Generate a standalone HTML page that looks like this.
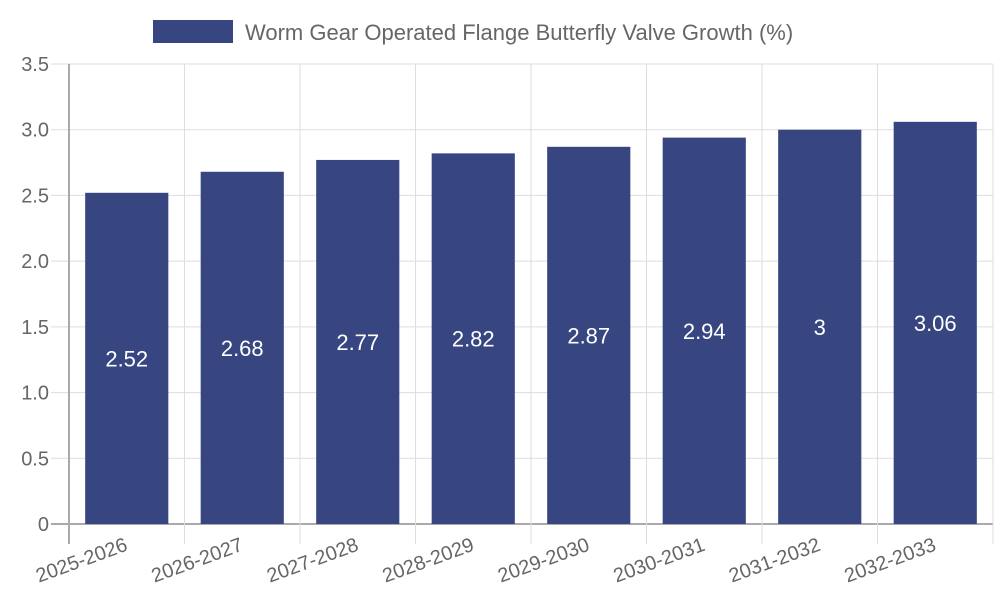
<!DOCTYPE html>
<html><head><meta charset="utf-8"><style>
body{margin:0;background:#fff;font-family:"Liberation Sans",sans-serif}
</style></head><body>
<svg id="chart" width="1000" height="600" xmlns="http://www.w3.org/2000/svg" font-family="Liberation Sans, sans-serif">
<g>
<rect x="153" y="20" width="80" height="23" fill="#374681"/>
<text x="245" y="40" font-size="22" fill="#666">Worm Gear Operated Flange Butterfly Valve Growth (%)</text>
</g>
<g id="grid"></g><g id="bars"></g><g id="labels"></g>
</svg>
<script>
const categories=["2025-2026","2026-2027","2027-2028","2028-2029","2029-2030","2030-2031","2031-2032","2032-2033"];
const values=[2.52,2.68,2.77,2.82,2.87,2.94,3,3.06];
const yTicks=[0,0.5,1.0,1.5,2.0,2.5,3.0,3.5];
const yTickLabels=["0","0.5","1.0","1.5","2.0","2.5","3.0","3.5"];
const NS="http://www.w3.org/2000/svg";
const L=69,R=993,T=64,B=524,yMax=3.5;
const y=v=>B-(v/yMax)*(B-T);
const bw=(R-L)/categories.length;
const xc=i=>L+bw*(i+0.5);
function mk(tag,attrs,parent,txt){const e=document.createElementNS(NS,tag);for(const k in attrs)e.setAttribute(k,attrs[k]);if(txt!==undefined)e.textContent=txt;parent.appendChild(e);return e;}
const g=document.getElementById('grid'),gb=document.getElementById('bars'),gl=document.getElementById('labels');
yTicks.forEach((t,i)=>{
  const ln=mk('line',{x1:L-18,x2:R,y1:y(t),y2:y(t),stroke:i==0?'#aaa':'#ddd','stroke-width':i==0?2:1},g);
  
  
  const tx=mk('text',{x:L-20,y:y(t)+7,'font-size':20,fill:'#666','text-anchor':'end'},g,yTickLabels[i]);
  
  
});
for(let i=0;i<=categories.length;i++){
  const x=L+bw*i;
  const ln=mk('line',{x1:x,x2:x,y1:T,y2:B+20,stroke:i==0?'#aaa':'#ddd','stroke-width':i==0?2:1},g);
  
  
}
categories.forEach((c,i)=>{
  const w=bw*0.72, x=xc(i)-w/2;
  const r=mk('rect',{x:x,y:y(values[i]),width:w,height:B-y(values[i]),fill:'#374681'},gb);
  
  
  const vt=mk('text',{x:xc(i),y:(y(values[i])+B)/2+8,'font-size':22,fill:'#fff','text-anchor':'middle'},gl,String(values[i]));
  
  
  const xt=mk('text',{x:xc(i)+2,y:B+26,'font-size':20,fill:'#666','text-anchor':'end',transform:`rotate(-20 ${xc(i)+2} ${B+26})`},gl,c);
  
  
});
</script>
</body></html>
